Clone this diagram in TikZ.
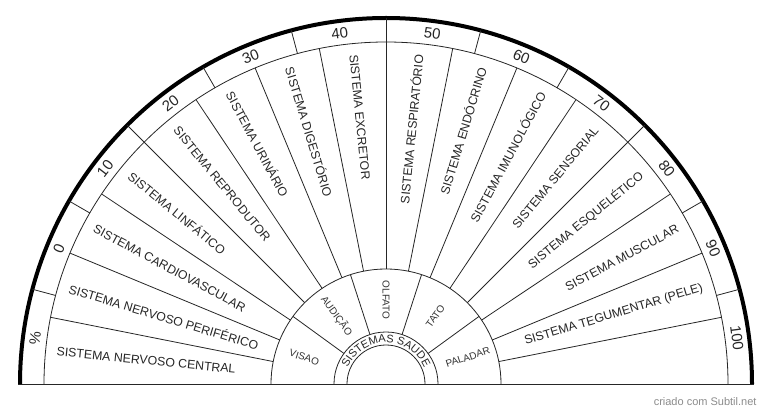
\documentclass[tikz,border=0pt]{standalone}
\usepackage{fontspec}
\setmainfont{Liberation Sans}
\usetikzlibrary{decorations.text}
\begin{document}
\begin{tikzpicture}[x=1pt,y=1pt,
  ln/.style={draw=black!85,line width=0.8pt},
  sys/.style={font=\fontsize{12.3}{13}\selectfont,inner sep=0pt,text=black!85},
  sense/.style={font=\fontsize{10}{11}\selectfont,inner sep=0pt,text=black!80},
  num/.style={font=\fontsize{15}{16}\selectfont,inner sep=0pt,text=black!85}]
\useasboundingbox (0,0) rectangle (768,415);
\fill[white] (0,0) rectangle (768,415);
\coordinate (c) at (386,31);
\draw[ln] (18,31) -- (754,31);
\draw[line width=4pt] ([shift={(180:366)}]c) arc (180:0:366);
\draw[ln] ([shift={(180:342)}]c) arc (180:0:342);
\draw[ln] ([shift={(180:115)}]c) arc (180:0:115);
\draw[ln] ([shift={(180:52)}]c) arc (180:0:52);
\draw[ln] ([shift={(180:39)}]c) arc (180:0:39);
\foreach \a in {15,30,...,165} \draw[ln] ([shift={(\a:342)}]c) -- ([shift={(\a:366)}]c);
\foreach \t [count=\i from 0] in {\%,0,10,20,30,40,50,60,70,80,90,100}{
  \pgfmathsetmacro\ang{172.5-15*\i}
  \node[num,rotate=\ang-90] (s\i) at ([shift={(\ang:354)}]c) {\t};
}
\foreach \k in {1,...,15} \draw[ln] ([shift={(180-11.25*\k:115)}]c) -- ([shift={(180-11.25*\k:342)}]c);
\foreach \t [count=\i from 0] in {SISTEMA NERVOSO CENTRAL,SISTEMA NERVOSO PERIFÉRICO,SISTEMA CARDIOVASCULAR,SISTEMA LINFÁTICO,SISTEMA REPRODUTOR,SISTEMA URINÁRIO,SISTEMA DIGESTÓRIO,SISTEMA EXCRETOR}{
  \pgfmathsetmacro\ang{180-11.25*(\i+0.5)}
  \node[sys,rotate=\ang-180,anchor=west] (a\i) at ([shift={(\ang:331)}]c) {\t};
}
\foreach \t [count=\i from 0] in {SISTEMA RESPIRATÓRIO,SISTEMA ENDÓCRINO,SISTEMA IMUNOLÓGICO,SISTEMA SENSORIAL,SISTEMA ESQUELÉTICO,SISTEMA MUSCULAR,SISTEMA TEGUMENTAR (PELE)}{
  \pgfmathsetmacro\ang{84.375-11.25*\i}
  \node[sys,rotate=\ang,anchor=east] (b\i) at ([shift={(\ang:331)}]c) {\t};
}
\foreach \a in {36,72,108,144} \draw[ln] ([shift={(\a:52)}]c) -- ([shift={(\a:115)}]c);
\node[sense,rotate=-18] (v) at ([shift={(162:86)}]c) {VISAO};
\node[sense,rotate=-54] (au) at ([shift={(126:84)}]c) {AUDIÇÃO};
\node[sense,rotate=-90] (ol) at ([shift={(90:84)}]c) {OLFATO};
\node[sense,rotate=54] (ta) at ([shift={(54:84)}]c) {TATO};
\node[sense,rotate=18] (pa) at ([shift={(18:86)}]c) {PALADAR};
\path[decorate,decoration={text along path,text align=center,
  text={|\fontsize{11}{11}\selectfont\color{black!85}|SISTEMAS SAUDE}}]
  ([shift={(175:41.5)}]c) arc (175:5:41.5);
\node[font=\fontsize{11}{12}\selectfont,text=black!45,anchor=east] (cr) at (760,13) {criado com Subtil.net};
\end{tikzpicture}
\end{document}
